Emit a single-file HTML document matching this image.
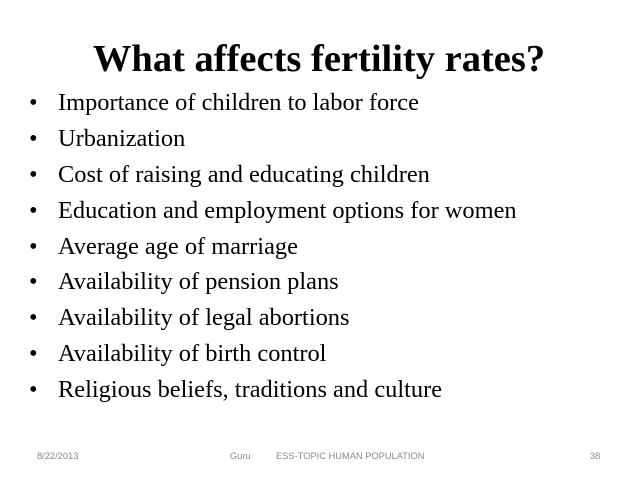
<!DOCTYPE html>
<html><head><meta charset="utf-8"><style>
body{margin:0;width:638px;height:478px;background:#fff;position:relative;overflow:hidden;font-family:"Liberation Serif",serif;}
h1{position:absolute;left:0;width:638px;top:36px;margin:0;text-align:center;font-size:38.5px;font-weight:bold;line-height:46px;color:#000;}
ul{position:absolute;left:0;top:87px;margin:0;padding:0;list-style:none;}
li{position:relative;height:35.9px;line-height:32px;font-size:24.4px;padding-left:58px;white-space:nowrap;}
li:before{content:"•";position:absolute;left:29px;}
.f{position:absolute;top:451px;font-family:"Liberation Sans",sans-serif;font-size:9.3px;color:#8a8a8a;}
</style></head><body>
<h1>What affects fertility rates?</h1>
<ul>
<li>Importance of children to labor force</li>
<li>Urbanization</li>
<li>Cost of raising and educating children</li>
<li>Education and employment options for women</li>
<li>Average age of marriage</li>
<li>Availability of pension plans</li>
<li>Availability of legal abortions</li>
<li>Availability of birth control</li>
<li>Religious beliefs, traditions and culture</li>
</ul>
<div class="f" style="left:37px">8/22/2013</div>
<div class="f" style="left:230px">Guru</div>
<div class="f" style="left:276px">ESS-TOPIC HUMAN POPULATION</div>
<div class="f" style="left:590px">38</div>
</body></html>
